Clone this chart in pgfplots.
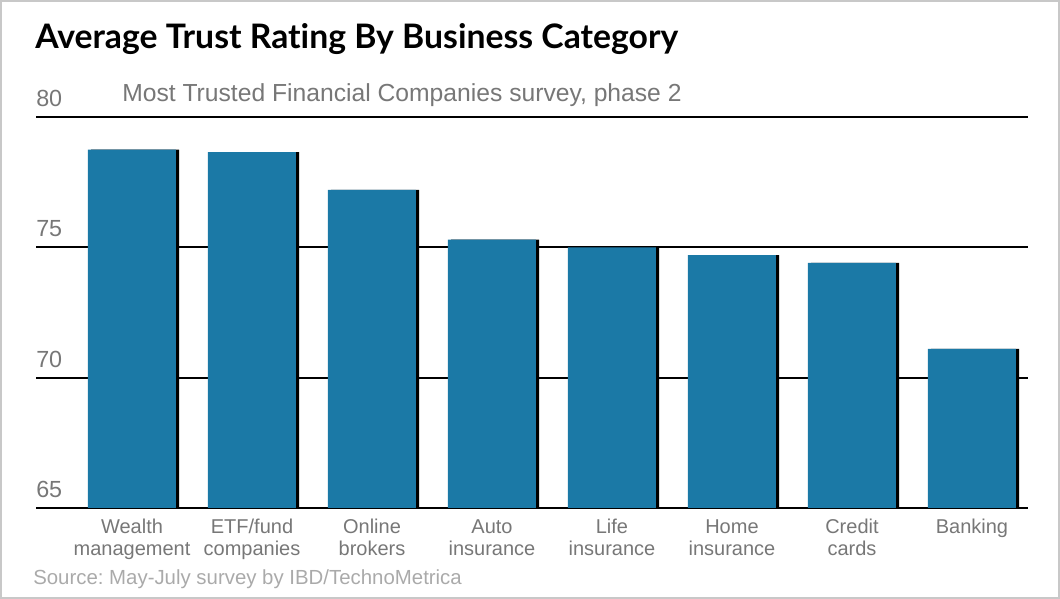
\documentclass[border=0pt]{standalone}
\usepackage{pgfplots}
\pgfplotsset{compat=1.18}
\usepackage{fontspec}
\setmainfont{Liberation Sans}
\newfontfamily\titlefont[Ligatures=NoCommon]{Lato}
\definecolor{barblue}{HTML}{1B79A6}
\definecolor{tickgray}{HTML}{777777}
\definecolor{srcgray}{HTML}{AAAAAA}
\definecolor{bordergray}{HTML}{C8C8C8}
\frenchspacing
\begin{document}
\begin{tikzpicture}
\path[draw=bordergray, line width=1.2pt] (0.6pt,0.6pt) rectangle (794.4pt,448.65pt);
\begin{axis}[
  at={(27pt,68.25pt)}, anchor=south west,
  scale only axis, width=744pt, height=293.25pt,
  xmin=-0.8, xmax=7.467, ymin=65, ymax=80,
  axis line style={draw=none},
  ytick={65,70,75,80}, yticklabels={65,70,75,80},
  ymajorgrids, grid style={black, line width=1.3pt},
  major tick length=0pt,
  yticklabel style={anchor=south west, inner sep=0pt, yshift=7.5pt, font=\fontsize{17.5}{20}\selectfont, text=tickgray},
  xtick={0,...,7},
  xticklabels={\strut Wealth\\management, \strut ETF/fund\\companies, \strut Online\\brokers, \strut Auto\\insurance, \strut Life\\insurance, \strut Home\\insurance, \strut Credit\\cards, \strut Banking},
  xticklabel style={anchor=north, inner sep=0pt, yshift=-7.5pt, align=center, font=\fontsize{15}{16.5}\selectfont, text=tickgray},
  ybar, bar width=66pt,
]
\addplot[fill=black, draw=none, bar shift=2.4pt] coordinates {(0,78.75) (1,78.65) (2,77.2) (3,75.3) (4,75.0) (5,74.7) (6,74.4) (7,71.1)};
\addplot[fill=barblue, draw=none, bar shift=0pt] coordinates {(0,78.75) (1,78.65) (2,77.2) (3,75.3) (4,75.0) (5,74.7) (6,74.4) (7,71.1)};
\end{axis}
\node[anchor=base west, inner sep=0pt, font=\titlefont\bfseries\fontsize{25.3}{28}\selectfont] at (26.25pt,412.9pt) {Average Trust Rating By Business Category};
\node[anchor=base west, inner sep=0pt, font=\fontsize{18.5}{21}\selectfont, text=tickgray] at (91.5pt,372.75pt) {Most Trusted Financial Companies survey, phase 2};
\node[anchor=base west, inner sep=0pt, font=\fontsize{15.3}{17}\selectfont, text=srcgray] at (24.75pt,10.5pt) {Source: May-July survey by IBD/TechnoMetrica};
\end{tikzpicture}
\end{document}
